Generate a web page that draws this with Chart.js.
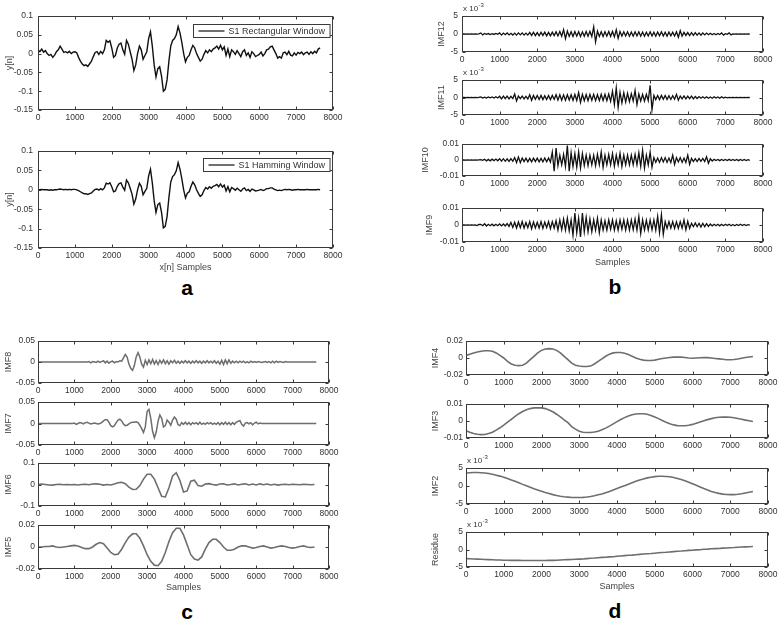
<!DOCTYPE html>
<html>
<head>
<meta charset="utf-8">
<script src="https://cdn.jsdelivr.net/npm/chart.js@4.4.1/dist/chart.umd.min.js"></script>
<style>
  body { margin:0; width:778px; height:619px; background:#fff; position:relative; overflow:hidden; }
  canvas { position:absolute; }
  .tag { position:absolute; font:bold 21px Arial, 'Liberation Sans', sans-serif; color:#000; transform:translate(-50%,-50%); }
</style>
</head>
<body>
<div class="tag" style="left:187px;top:288px">a</div>
<div class="tag" style="left:615px;top:287px">b</div>
<div class="tag" style="left:187px;top:612px">c</div>
<div class="tag" style="left:615px;top:611px">d</div>
<script>
// ── Data ────────────────────────────────────────────────────────

// sample index grids: every 50 samples (noisy traces) and every 100 (smooth ones)
const samples50  = Array.from({ length: 154 }, (_, i) => i * 50);
const samples100 = Array.from({ length: 77 },  (_, i) => i * 100);

// a: heart sound S1, step 50
const s1Rect = [
  0.010,0.005,0.012,0.004,0.008,0.000,-0.005,-0.002,-0.010,-0.004,   // 0
  0.005,0.010,0.020,0.012,0.003,0.005,0.002,0.006,0.000,0.004,       // 500
  0.005,0.002,-0.010,-0.020,-0.028,-0.032,-0.030,-0.034,-0.027,-0.020, // 1000
  -0.008,0.003,0.005,-0.002,0.006,0.000,0.010,0.035,0.030,0.034,     // 1500
  0.015,-0.010,-0.005,0.015,0.025,0.028,0.010,-0.002,0.035,0.025,    // 2000
  0.005,-0.015,-0.045,-0.030,0.000,0.020,0.010,-0.015,-0.005,0.005,  // 2500
  0.040,0.058,0.020,-0.030,-0.062,-0.040,-0.035,-0.060,-0.100,-0.095, // 3000
  -0.070,-0.020,0.020,0.035,0.040,0.050,0.072,0.055,0.030,0.000,     // 3500
  -0.022,-0.010,-0.005,0.010,0.022,0.015,0.000,-0.010,-0.020,-0.015, // 4000
  -0.002,0.008,0.002,0.010,0.005,0.012,0.015,0.020,0.012,0.022,      // 4500
  0.010,0.018,-0.005,0.012,-0.008,0.010,0.005,-0.002,0.008,0.000,    // 5000
  -0.008,0.005,0.010,-0.005,0.002,-0.010,0.005,0.000,-0.008,-0.005,  // 5500
  -0.002,0.004,-0.006,0.000,0.010,0.012,0.018,0.020,0.010,0.000,     // 6000
  -0.012,-0.008,-0.012,0.002,0.004,-0.003,0.006,-0.004,-0.006,0.002, // 6500
  -0.004,0.003,0.000,0.004,-0.003,0.002,0.004,-0.002,0.005,0.000,    // 7000
  0.006,0.002,0.012,0.015                                            // 7500
];
const s1Hamming = [
  0.000,0.000,0.001,0.000,0.000,0.000,-0.001,0.000,-0.001,0.000,
  0.000,0.001,0.002,0.001,0.000,0.001,0.000,0.001,0.000,0.001,
  0.001,0.000,-0.002,-0.005,-0.008,-0.010,-0.010,-0.012,-0.010,-0.008,
  -0.003,0.001,0.002,-0.001,0.003,0.000,0.005,0.017,0.015,0.018,
  0.008,-0.005,-0.003,0.009,0.016,0.018,0.007,-0.001,0.025,0.018,
  0.004,-0.011,-0.037,-0.024,0.000,0.017,0.009,-0.013,-0.004,0.004,
  0.036,0.053,0.018,-0.028,-0.058,-0.038,-0.034,-0.058,-0.098,-0.094,
  -0.069,-0.020,0.020,0.034,0.039,0.049,0.070,0.053,0.029,0.000,
  -0.021,-0.009,-0.005,0.009,0.020,0.013,0.000,-0.009,-0.017,-0.013,
  -0.002,0.006,0.002,0.008,0.004,0.009,0.011,0.014,0.008,0.015,
  0.007,0.012,-0.003,0.008,-0.005,0.006,0.003,-0.001,0.004,0.000,
  -0.004,0.002,0.005,-0.002,0.001,-0.004,0.002,0.000,-0.003,-0.002,
  -0.001,0.001,-0.002,0.000,0.003,0.003,0.005,0.005,0.002,0.000,
  -0.002,-0.001,-0.002,0.000,0.001,0.000,0.001,0.000,-0.001,0.000,
  0.000,0.001,0.000,0.000,0.000,0.000,0.001,0.000,0.000,0.000,
  0.000,0.000,0.001,0.000
];

// b: high-frequency IMFs, step 50 (IMF12/IMF11 in units of 1e-3, as on the axis)
const imf12 = [
  0,0.05,-0.05,0.05,-0.05,0.05,-0.05,0.05,-0.05,0.05,
  0.3,-0.25,0.15,-0.1,0.12,-0.15,0.1,-0.12,0.15,-0.1,
  0.3,-0.3,0.25,-0.2,0.3,-0.25,0.2,-0.3,0.25,-0.3,
  0.3,-0.25,0.3,-0.3,0.25,-0.3,0.45,-0.4,0.5,-0.45,
  0.4,-0.5,0.45,-0.4,0.5,-0.5,0.45,-0.5,0.5,-0.45,
  0.6,-0.55,0.7,-0.6,1.2,-1.3,0.8,-0.7,0.6,-0.7,
  0.7,-0.6,0.65,-0.7,0.6,-0.65,0.7,-0.6,0.75,-0.7,
  2.0,-2.2,0.8,-0.7,0.6,-0.7,0.65,-0.6,0.7,-0.65,
  0.7,-0.8,1.2,-1.2,0.7,-0.6,0.6,-0.55,0.6,-0.6,
  0.55,-0.6,0.6,-0.55,0.6,-0.6,0.55,-0.6,0.5,-0.55,
  0.6,-0.55,0.5,-0.6,0.55,-0.5,0.6,-0.55,0.5,-0.6,
  0.55,-0.5,0.5,-0.55,0.6,-0.9,0.9,-0.6,0.45,-0.4,
  0.4,-0.45,0.35,-0.4,0.4,-0.35,0.3,-0.35,0.3,-0.25,
  0.25,-0.2,0.2,-0.2,0.15,-0.2,0.15,-0.15,0.3,-0.3,
  0.1,-0.1,0.3,-0.25,0.05,-0.05,0.05,-0.05,0.05,-0.05,
  0.05,-0.05,0.05,-0.05
];
const imf11 = [
  0,0.05,-0.05,0.05,-0.05,0.05,-0.05,0.05,-0.05,0.05,
  0.15,-0.15,0.1,-0.15,0.15,-0.1,0.15,-0.15,0.2,-0.15,
  0.35,-0.4,0.4,-0.35,0.4,-0.4,0.35,-0.3,1.0,-1.0,
  0.4,-0.35,0.4,-0.4,0.35,-0.4,0.8,-0.8,0.6,-0.5,
  0.6,-0.55,0.6,-0.6,0.5,-0.6,0.55,-0.6,0.6,-0.55,
  0.8,-0.75,0.8,-0.8,0.75,-0.8,0.8,-0.7,0.8,-0.8,
  0.9,-0.85,1.4,-1.4,0.9,-0.9,0.85,-0.9,0.9,-0.8,
  0.9,-0.9,0.8,-0.9,0.9,-0.85,0.9,-0.9,1.0,-1.1,
  1.8,-2.0,2.8,-2.8,1.5,-1.5,1.4,-1.3,1.2,-1.2,
  1.1,-1.0,2.0,-2.0,1.0,-1.0,0.9,-1.0,0.9,-0.9,
  3.5,-3.5,0.6,-0.6,0.55,-0.6,0.6,-0.5,0.6,-0.55,
  0.5,-0.55,0.5,-0.5,0.9,-0.8,0.4,-0.4,0.45,-0.4,
  0.4,-0.35,0.4,-0.4,0.3,-0.3,0.25,-0.2,0.2,-0.2,
  0.2,-0.2,0.15,-0.2,0.2,-0.15,0.15,-0.2,0.2,-0.15,
  0.1,-0.1,0.05,-0.05,0.05,-0.05,0.05,-0.05,0.05,-0.05,
  0.05,-0.05,0.05,-0.05
];
const imf10 = [
  0,0.0001,-0.0001,0.0001,-0.0001,0.0001,-0.0001,0.0001,-0.0001,0.0001,
  0.0002,-0.0002,0.0005,-0.0005,0.0004,-0.0005,0.0005,-0.0004,0.0006,-0.0005,
  0.0008,-0.0007,0.0008,-0.0008,0.0007,-0.0008,0.0009,-0.0008,0.0015,-0.0016,
  0.0018,-0.0017,0.0012,-0.0010,0.0011,-0.0012,0.0010,-0.0011,0.0012,-0.0010,
  0.0011,-0.0012,0.0010,-0.0012,0.0013,-0.0011,0.0012,-0.0013,0.0050,-0.0070,
  0.0075,-0.0035,0.0030,-0.0030,0.0035,-0.0040,0.0090,-0.0070,0.0045,-0.0040,
  0.0040,-0.0045,0.0050,-0.0050,0.0040,-0.0035,0.0030,-0.0035,0.0030,-0.0030,
  0.0030,-0.0035,0.0035,-0.0030,0.0050,-0.0045,0.0030,-0.0030,0.0035,-0.0030,
  0.0040,-0.0040,0.0030,-0.0030,0.0042,-0.0040,0.0030,-0.0030,0.0030,-0.0030,
  0.0030,-0.0030,0.0035,-0.0030,0.0045,-0.0040,0.0060,-0.0050,0.0030,-0.0030,
  0.0050,-0.0045,0.0015,-0.0015,0.0012,-0.0015,0.0015,-0.0012,0.0015,-0.0015,
  0.0012,-0.0015,0.0030,-0.0028,0.0015,-0.0012,0.0015,-0.0015,0.0012,-0.0015,
  0.0030,-0.0028,0.0010,-0.0010,0.0008,-0.0010,0.0010,-0.0008,0.0010,-0.0010,
  0.0020,-0.0020,0.0008,-0.0006,0.0004,-0.0003,0.0003,-0.0004,0.0003,-0.0003,
  0.0003,-0.0003,0.0004,-0.0003,0.0003,-0.0003,0.0003,-0.0004,0.0003,-0.0003,
  0.0003,-0.0003,0.0002,-0.0002
];
const imf9 = [
  0,0.0001,-0.0001,0.0001,-0.0001,0.0001,-0.0001,0.0001,-0.0003,0.0003,
  0.0004,-0.0004,0.0007,-0.0006,0.0004,-0.0004,0.0005,-0.0005,0.0004,-0.0004,
  0.0006,-0.0005,0.0006,-0.0006,0.0008,-0.0008,0.0015,-0.0014,0.0016,-0.0018,
  0.0018,-0.0016,0.0020,-0.0018,0.0015,-0.0016,0.0020,-0.0022,0.0018,-0.0017,
  0.0016,-0.0018,0.0020,-0.0020,0.0017,-0.0016,0.0020,-0.0022,0.0020,-0.0019,
  0.0025,-0.0030,0.0030,-0.0028,0.0035,-0.0030,0.0040,-0.0035,0.0030,-0.0060,
  0.0070,-0.0045,0.0040,-0.0070,0.0070,-0.0040,0.0045,-0.0040,0.0035,-0.0040,
  0.0030,-0.0030,0.0040,-0.0045,0.0030,-0.0030,0.0025,-0.0030,0.0030,-0.0025,
  0.0030,-0.0030,0.0025,-0.0030,0.0030,-0.0025,0.0030,-0.0030,0.0028,-0.0030,
  0.0030,-0.0028,0.0035,-0.0030,0.0050,-0.0050,0.0030,-0.0030,0.0028,-0.0030,
  0.0030,-0.0028,0.0030,-0.0030,0.0050,-0.0045,0.0060,-0.0055,0.0020,-0.0020,
  0.0020,-0.0018,0.0020,-0.0020,0.0018,-0.0020,0.0020,-0.0018,0.0030,-0.0028,
  0.0022,-0.0020,0.0010,-0.0010,0.0012,-0.0010,0.0010,-0.0012,0.0010,-0.0010,
  0.0008,-0.0008,0.0006,-0.0005,0.0004,-0.0004,0.0004,-0.0005,0.0004,-0.0004,
  0.0004,-0.0003,0.0004,-0.0004,0.0003,-0.0004,0.0003,-0.0003,0.0004,-0.0003,
  0.0003,-0.0003,0.0002,-0.0001
];

// c: mid-frequency IMFs (IMF8, IMF7 step 50; IMF6, IMF5 step 100)
const imf8 = [
  0,0,0,0,0,0,0,0,0,0,
  0,0,0,0,0,0,0,0,0,0,
  0,0,0,0,0,0,0,0,0.001,-0.002,
  0.001,0.000,-0.001,0.002,-0.001,0.001,0.003,-0.002,0.002,-0.003,
  0.001,0.002,-0.002,0.001,0.000,0.003,0.002,0.010,0.018,0.012,
  -0.005,-0.015,-0.020,-0.008,0.012,0.022,0.012,-0.005,-0.012,0.004,
  -0.006,0.005,-0.004,0.006,-0.005,0.003,-0.006,0.004,-0.003,0.005,
  -0.004,0.003,-0.005,0.003,-0.002,0.004,-0.003,0.002,-0.003,0.002,
  -0.002,0.003,-0.002,0.002,-0.003,0.002,-0.002,0.003,-0.002,0.002,
  -0.003,0.002,-0.002,0.003,-0.002,0.002,-0.002,0.003,-0.003,0.002,
  -0.005,0.004,-0.006,0.005,-0.004,0.005,-0.003,0.002,-0.002,0.002,
  -0.002,0.002,-0.001,0.002,-0.002,0.001,-0.002,0.002,-0.001,0.001,
  -0.001,0.001,0.000,-0.001,0.000,0.001,-0.001,0.001,-0.002,0.002,
  -0.002,0.002,-0.001,0.001,0.000,-0.001,0.001,0.000,0.000,0.000,
  0,0,0,0,0,0,0,0,0,0,
  0,0,0,0
];
const imf7 = [
  0,0,0,0,0,0,0,0,0,0,
  0,0,0,0,0,0,0,0,0,0,
  0.001,-0.002,0.000,0.002,0.001,-0.001,0.002,0.003,0.001,-0.001,
  0.000,0.001,0.000,-0.001,0.000,0.002,0.006,0.009,0.009,0.003,
  -0.005,-0.008,-0.005,0.002,0.008,0.010,0.006,-0.001,-0.005,-0.004,
  -0.001,0.002,0.003,0.003,0.004,0.002,-0.004,-0.012,-0.021,-0.008,
  0.028,0.033,0.012,-0.018,-0.033,-0.020,0.005,0.020,0.012,-0.008,
  -0.005,0.008,0.003,-0.004,0.008,0.015,0.010,-0.003,-0.005,0.002,
  -0.002,0.003,-0.002,0.002,-0.003,0.002,-0.001,0.002,-0.002,0.003,
  -0.002,0.001,-0.002,0.002,-0.001,0.002,-0.002,0.001,-0.002,0.002,
  -0.003,0.002,-0.002,0.003,-0.002,0.002,-0.003,0.002,-0.002,0.003,
  0.005,0.007,-0.002,-0.006,0.001,0.002,-0.001,0.002,-0.003,0.001,
  0.003,-0.001,0.001,0.000,0.000,0.000,0,0,0,0,
  0,0,0,0,0,0,0,0,0,0,
  0,0,0,0,0,0,0,0,0,0,
  0,0,0,0
];
const imf6 = [
  0.000,0.002,0.000,-0.002,-0.003,0.000,0.001,-0.001,0.000,-0.001,
  0.000,-0.002,0.000,0.001,-0.001,0.002,0.003,0.001,-0.003,0.000,
  -0.002,0.002,0.008,0.010,0.004,-0.012,-0.023,-0.022,-0.005,0.025,
  0.048,0.048,0.025,-0.015,-0.055,-0.058,-0.015,0.040,0.055,0.020,
  -0.035,-0.030,0.015,0.020,-0.005,-0.008,0.002,0.004,0.000,-0.003,
  0.002,0.003,-0.002,0.000,0.003,-0.002,0.001,0.003,-0.002,0.002,
  -0.002,0.003,-0.001,0.002,-0.002,0.001,-0.003,0.000,0.001,-0.001,
  0.001,0.000,-0.001,0.001,0.000,-0.001,0.000
];
const imf5 = [
  0.000,0.000,0.0005,0.0005,0.001,0.000,-0.0005,0.000,0.0005,0.001,
  0.0015,0.001,-0.0005,-0.0015,-0.0015,0.000,0.0025,0.004,0.003,-0.001,
  -0.005,-0.007,-0.0065,-0.002,0.004,0.009,0.012,0.012,0.008,0.001,
  -0.007,-0.013,-0.0165,-0.017,-0.013,-0.005,0.005,0.013,0.017,0.017,
  0.011,0.002,-0.007,-0.011,-0.012,-0.009,-0.002,0.004,0.007,0.007,
  0.004,0.000,-0.003,-0.003,-0.002,0.000,0.001,0.001,0.000,-0.001,
  -0.0005,0.0005,0.001,0.000,-0.001,-0.0005,0.0005,0.001,0.0005,-0.0005,
  -0.001,-0.0005,0.0005,0.001,0.000,-0.0005,0.000
];

// d: low-frequency IMFs and residue, step 100 (IMF2 / residue in units of 1e-3)
const imf4 = [
  0.003,0.0045,0.006,0.007,0.008,0.0085,0.0085,0.008,0.006,0.003,
  0.000,-0.004,-0.007,-0.0085,-0.009,-0.0085,-0.006,-0.002,0.002,0.006,
  0.009,0.0105,0.011,0.0105,0.009,0.006,0.002,-0.002,-0.006,-0.0085,
  -0.0095,-0.010,-0.010,-0.0095,-0.007,-0.004,-0.001,0.002,0.0045,0.006,
  0.0065,0.0065,0.0055,0.004,0.002,0.000,-0.0015,-0.0025,-0.003,-0.003,
  -0.0025,-0.0015,-0.0005,0.000,0.0005,0.001,0.0012,0.001,0.0005,0.000,
  -0.0003,0.000,0.0003,0.0005,0.0004,0.000,-0.0005,-0.001,-0.0015,-0.002,
  -0.002,-0.0018,-0.0012,-0.0003,0.0006,0.0012,0.0018
];
const imf3 = [
  -0.0057,-0.0066,-0.0073,-0.0078,-0.008,-0.0079,-0.0074,-0.0066,-0.0054,-0.004,
  -0.0024,-0.0007,0.001,0.0027,0.0043,0.0056,0.0066,0.0073,0.0077,0.0078,
  0.0077,0.0073,0.0065,0.0054,0.004,0.0024,0.0007,-0.001,-0.0033,-0.0048,
  -0.006,-0.0066,-0.0068,-0.0068,-0.0065,-0.006,-0.0052,-0.0042,-0.003,-0.0017,
  -0.0004,0.0009,0.002,0.003,0.0037,0.0041,0.0043,0.0043,0.004,0.0033,
  0.0024,0.0014,0.0003,-0.0007,-0.0016,-0.0023,-0.0027,-0.0028,-0.0028,-0.0025,
  -0.002,-0.0013,-0.0006,0.0001,0.0008,0.0014,0.0019,0.0022,0.0023,0.0023,
  0.0022,0.0019,0.0015,0.001,0.0005,0.0001,-0.0003
];
const imf2 = [
  3.6,3.7,3.75,3.75,3.7,3.6,3.45,3.25,3.0,2.75,
  2.45,2.1,1.7,1.3,0.9,0.45,0.05,-0.35,-0.75,-1.1,
  -1.45,-1.8,-2.1,-2.4,-2.65,-2.85,-3.0,-3.1,-3.2,-3.2,
  -3.2,-3.15,-3.05,-2.9,-2.7,-2.45,-2.2,-1.85,-1.5,-1.1,
  -0.7,-0.3,0.1,0.5,0.9,1.3,1.65,1.95,2.25,2.45,
  2.6,2.7,2.7,2.65,2.55,2.35,2.1,1.8,1.45,1.05,
  0.65,0.2,-0.25,-0.7,-1.1,-1.5,-1.8,-2.05,-2.25,-2.35,
  -2.4,-2.4,-2.3,-2.15,-1.95,-1.75,-1.55
];
const residue = [
  -2.6,-2.65,-2.7,-2.75,-2.8,-2.85,-2.9,-2.95,-3.0,-3.0,
  -3.05,-3.05,-3.1,-3.1,-3.1,-3.15,-3.15,-3.15,-3.15,-3.15,
  -3.15,-3.15,-3.1,-3.1,-3.05,-3.0,-2.95,-2.9,-2.85,-2.8,
  -2.75,-2.7,-2.6,-2.5,-2.45,-2.35,-2.25,-2.2,-2.1,-2.05,
  -1.95,-1.85,-1.75,-1.65,-1.6,-1.5,-1.4,-1.3,-1.2,-1.15,
  -1.05,-0.95,-0.85,-0.8,-0.7,-0.6,-0.5,-0.45,-0.35,-0.25,
  -0.2,-0.1,-0.05,0.05,0.1,0.2,0.25,0.3,0.4,0.45,
  0.5,0.55,0.65,0.7,0.75,0.8,0.85
];

// ── Layout & styling ──────────────────────────────────────────

const PAD_TOP = 14, PAD_RIGHT = 14;
const TICK_FONT  = { family: "'Liberation Sans', Arial, sans-serif", size: 8.5 };
const LABEL_FONT = { family: "'Liberation Sans', Arial, sans-serif", size: 9 };
const INK = '#111', GREY = '#6e6e6e';

// area = [left, top, right, bottom] of the axes box, page px
const plots = [
  { area:[38,16,333,110],  axisW:38, axisH:16, xs:samples50,  ys:s1Rect,    y:[-0.15,0.1,0.05],  yTitle:'y[n]', legend:'S1 Rectangular Window', color:INK, lw:1.4, pad:5 },
  { area:[38,151,333,248], axisW:38, axisH:29, xs:samples50,  ys:s1Hamming, y:[-0.15,0.1,0.05],  yTitle:'y[n]', legend:'S1 Hamming Window', xTitle:'x[n] Samples', color:INK, lw:1.4, pad:5 },

  { area:[462,16,763,52],   axisW:30, axisH:16, xs:samples50, ys:imf12, y:[-5,5,5],          yTitle:'IMF12', exp:true, color:INK, lw:1.3, pad:4 },
  { area:[462,80,763,115],  axisW:30, axisH:16, xs:samples50, ys:imf11, y:[-5,5,5],          yTitle:'IMF11', exp:true, color:INK, lw:1.3, pad:4 },
  { area:[462,144,763,176], axisW:46, axisH:16, xs:samples50, ys:imf10, y:[-0.01,0.01,0.01], yTitle:'IMF10', color:INK, lw:1.3, pad:3 },
  { area:[462,208,763,242], axisW:42, axisH:30, xs:samples50, ys:imf9,  y:[-0.01,0.01,0.01], yTitle:'IMF9', xTitle:'Samples', color:INK, lw:1.3, pad:3 },

  { area:[38,341,329,383], axisW:38, axisH:16, xs:samples50,  ys:imf8, y:[-0.05,0.05,0.05], yTitle:'IMF8', color:GREY, lw:1.5, pad:3, tpad:3 },
  { area:[38,402,329,445], axisW:38, axisH:16, xs:samples50,  ys:imf7, y:[-0.05,0.05,0.05], yTitle:'IMF7', color:GREY, lw:1.5, pad:3, tpad:3 },
  { area:[38,463,329,506], axisW:38, axisH:16, xs:samples100, ys:imf6, y:[-0.1,0.1,0.1],    yTitle:'IMF6', color:GREY, lw:1.6, pad:3, tpad:3 },
  { area:[38,525,329,569], axisW:38, axisH:28, xs:samples100, ys:imf5, y:[-0.02,0.02,0.02], yTitle:'IMF5', xTitle:'Samples', color:GREY, lw:1.6, pad:3, tpad:3 },

  { area:[466,341,768,375], axisW:40, axisH:16, xs:samples100, ys:imf4,    y:[-0.02,0.02,0.02], yTitle:'IMF4', color:GREY, lw:1.6, pad:3 },
  { area:[466,404,768,438], axisW:40, axisH:16, xs:samples100, ys:imf3,    y:[-0.01,0.01,0.01], yTitle:'IMF3', color:GREY, lw:1.6, pad:3 },
  { area:[466,468,768,504], axisW:40, axisH:16, xs:samples100, ys:imf2,    y:[-5,5,5],          yTitle:'IMF2', exp:true, color:GREY, lw:1.6, pad:3 },
  { area:[466,532,768,567], axisW:40, axisH:29, xs:samples100, ys:residue, y:[-5,5,5],          yTitle:'Residue', exp:true, xTitle:'Samples', color:GREY, lw:1.6, pad:3 },
];

// MATLAB-ish box with inward ticks on all four sides
const boxTicks = {
  id: 'boxTicks',
  afterDatasetsDraw(chart) {
    const { ctx, chartArea: a, scales: { x, y } } = chart;
    const l = Math.round(a.left) + 0.5, r = Math.round(a.right) - 0.5;
    const t = Math.round(a.top) + 0.5,  b = Math.round(a.bottom) - 0.5;
    ctx.save();
    ctx.strokeStyle = '#3a3a3a';
    ctx.lineWidth = 1;
    ctx.strokeRect(l, t, r - l, b - t);
    ctx.beginPath();
    x.ticks.forEach(tk => {
      const px = Math.round(x.getPixelForValue(tk.value)) + 0.5;
      ctx.moveTo(px, b); ctx.lineTo(px, b - 3);
      ctx.moveTo(px, t); ctx.lineTo(px, t + 3);
    });
    y.ticks.forEach(tk => {
      const py = Math.round(y.getPixelForValue(tk.value)) + 0.5;
      ctx.moveTo(l, py); ctx.lineTo(l + 3, py);
      ctx.moveTo(r, py); ctx.lineTo(r - 3, py);
    });
    ctx.stroke();
    ctx.restore();
  }
};

// legend box in the upper right corner of the axes
const cornerLegend = {
  id: 'cornerLegend',
  afterDraw(chart, args, opts) {
    if (!opts.show) return;
    const { ctx, chartArea: a } = chart;
    const ds = chart.data.datasets[0];
    ctx.save();
    ctx.font = `${LABEL_FONT.size}px ${LABEL_FONT.family}`;
    const w = ctx.measureText(ds.label).width + 40, h = 13;
    const x0 = Math.round(a.right - 3 - w) + 0.5, y0 = Math.round(a.top + opts.dy) + 0.5;
    ctx.fillStyle = '#fff';
    ctx.fillRect(x0, y0, w, h);
    ctx.strokeStyle = '#3a3a3a';
    ctx.lineWidth = 1;
    ctx.strokeRect(x0, y0, w, h);
    ctx.strokeStyle = ds.borderColor;
    ctx.lineWidth = 1.2;
    ctx.beginPath();
    ctx.moveTo(x0 + 5, y0 + h / 2); ctx.lineTo(x0 + 31, y0 + h / 2);
    ctx.stroke();
    ctx.fillStyle = '#333';
    ctx.textBaseline = 'middle';
    ctx.fillText(ds.label, x0 + 35, y0 + h / 2 + 0.5);
    ctx.restore();
  }
};

// "x 10^-3" multiplier above the axes
const exponent = {
  id: 'exponent',
  afterDraw(chart, args, opts) {
    if (!opts.show) return;
    const { ctx, chartArea: a } = chart;
    ctx.save();
    ctx.fillStyle = '#333';
    ctx.textBaseline = 'alphabetic';
    ctx.font = `8px ${LABEL_FONT.family}`;
    ctx.fillText('x 10', a.left + 1, a.top - 5);
    const w = ctx.measureText('x 10').width;
    ctx.font = `6px ${LABEL_FONT.family}`;
    ctx.fillText('-3', a.left + 1 + w + 0.5, a.top - 9);
    ctx.restore();
  }
};

const fmt = v => String(+Number(v).toFixed(4));

function makePlot(p) {
  const [L, T, R, B] = p.area;
  const left = L - p.axisW, top = T - PAD_TOP;
  const cv = document.createElement('canvas');
  cv.width  = R + PAD_RIGHT - left;
  cv.height = B + p.axisH - top;
  cv.style.left = left + 'px';
  cv.style.top  = top + 'px';
  document.body.appendChild(cv);

  const [yMin, yMax, yStep] = p.y;
  new Chart(cv, {
    type: 'line',
    data: {
      datasets: [{
        label:       p.legend || p.yTitle,
        data:        p.xs.map((x, i) => ({ x, y: p.ys[i] })),
        borderColor: p.color,
        borderWidth: p.lw,
        pointRadius: 0,
        tension:     0,
        fill:        false,
      }]
    },
    options: {
      responsive: false,
      animation:  false,
      events:     [],
      layout: { padding: { top: PAD_TOP, right: PAD_RIGHT, left: 0, bottom: 0 } },
      plugins: {
        legend:       { display: false },
        tooltip:      { enabled: false },
        cornerLegend: { show: !!p.legend, dy: p.legend === 'S1 Hamming Window' ? 7 : 8 },
        exponent:     { show: !!p.exp },
      },
      scales: {
        x: {
          type: 'linear', min: 0, max: 8000,
          afterFit: s => { s.height = p.axisH; },
          grid:   { display: false, drawTicks: false },
          border: { display: false },
          ticks:  { stepSize: 1000, padding: 3, color: '#333', font: TICK_FONT, maxRotation: 0, autoSkip: false, callback: v => String(v) },
          title:  { display: !!p.xTitle, text: p.xTitle || '', color: '#444', font: LABEL_FONT, padding: { top: 0, bottom: 4 } },
        },
        y: {
          min: yMin, max: yMax,
          afterFit: s => { s.width = p.axisW; },
          grid:   { display: false, drawTicks: false },
          border: { display: false },
          ticks:  { stepSize: yStep, padding: p.pad, color: '#333', font: TICK_FONT, callback: fmt },
          title:  { display: true, text: p.yTitle, color: '#444', font: LABEL_FONT, padding: { top: p.tpad ?? 4, bottom: 0 } },
        }
      }
    },
    plugins: [boxTicks, cornerLegend, exponent]
  });
}

plots.forEach(makePlot);
</script>
</body>
</html>
